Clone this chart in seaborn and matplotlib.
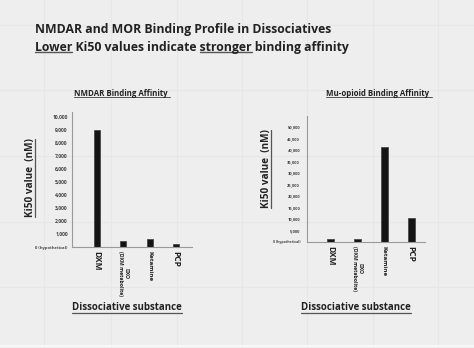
import numpy as np
import pandas as pd
import matplotlib
matplotlib.use("Agg")
import matplotlib.pyplot as plt
import seaborn as sns
from matplotlib.lines import Line2D

# ---------------- data ----------------
categories = ["DXM", "DXO\n(DXM metabolite)", "Ketamine", "PCP"]
nmdar_ki = [9000, 490, 620, 210]
mor_ki = [1300, 1300, 41000, 10500]

nmdar_ticks = [0, 1000, 2000, 3000, 4000, 5000, 6000, 7000, 8000, 9000, 10000]
nmdar_tick_labels = ["0 (hypothetical)", "1,000", "2,000", "3,000", "4,000", "5,000",
                     "6,000", "7,000", "8,000", "9,000", "10,000"]
mor_ticks = [0, 5000, 10000, 15000, 20000, 25000, 30000, 35000, 40000, 45000, 50000]
mor_tick_labels = ["0 (hypothetical)", "5,000", "10,000", "15,000", "20,000", "25,000",
                   "30,000", "35,000", "40,000", "45,000", "50,000"]
cat_fontsizes = [6, 3.7, 4.5, 6]

title_main = "NMDAR and MOR Binding Profile in Dissociatives"
sub_parts = ["Lower", " Ki50 values indicate ", "stronger", " binding affinity"]
left_title = "NMDAR Binding Affinity "
right_title = "Mu-opioid Binding Affinity "
ylabel = "Ki50 value  (nM)"
xlabel = "Dissociative substance"

# ---------------- style ----------------
sns.set_theme(style="white")
plt.rcParams["font.family"] = ["Open Sans", "DejaVu Sans"]
plt.rcParams["font.weight"] = "bold"
BG = "#eeeeee"
TXT = "#222222"

W, H = 474, 348
fig = plt.figure(figsize=(W / 100, H / 100), dpi=100, facecolor=BG)

# faint background grid (whiteboard look)
bg = fig.add_axes([0, 0, 1, 1], zorder=-10)
bg.set_xlim(0, W)
bg.set_ylim(H, 0)
bg.set_facecolor(BG)
bg.set_xticks([44, 111, 177, 242, 307, 373, 438])
bg.set_yticks([25, 90, 156, 222, 287])
bg.grid(True, color="#e7e7e7", linewidth=0.9)
bg.axhline(346, color="#f8f8f8", linewidth=1.5)
bg.tick_params(length=0, labelleft=False, labelbottom=False)
for s in bg.spines.values():
    s.set_visible(False)


def px_axes(x0, y0, x1, y1):
    return fig.add_axes([x0 / W, 1 - y1 / H, (x1 - x0) / W, (y1 - y0) / H])


axL = px_axes(72, 112, 192, 247)
axR = px_axes(307, 116, 425, 242)

specs = [
    (axL, nmdar_ki, nmdar_ticks, nmdar_tick_labels, (-0.95, 3.61), 10400, 0.23, 3.6, 3.0, 3),
    (axR, mor_ki, mor_ticks, mor_tick_labels, (-0.885, 3.52), 54600, 0.26, 3.0, 2.5, 5),
]

for ax, vals, ticks, tlabels, xlim, ytop, bw, tfs, zfs, pad in specs:
    df = pd.DataFrame({"substance": categories, "ki": vals})
    sns.barplot(data=df, x="substance", y="ki", ax=ax, color="#141414",
                width=bw, edgecolor="#4a4a4a", linewidth=0.6, saturation=1)
    ax.set_facecolor("none")
    ax.set_xlim(*xlim)
    ax.set_ylim(0, ytop)
    ax.set_yticks(ticks)
    ax.set_yticklabels(tlabels, fontsize=tfs, color="#444444", fontweight="bold")
    ax.get_yticklabels()[0].set_fontsize(zfs)
    ax.set_xticks(range(len(categories)))
    ax.set_xticklabels(categories, rotation=-90, va="top", ha="center",
                       multialignment="center", color=TXT, fontweight="bold")
    for lab, fs in zip(ax.get_xticklabels(), cat_fontsizes):
        lab.set_fontsize(fs)
    ax.tick_params(axis="both", length=0)
    ax.tick_params(axis="y", pad=pad)
    ax.tick_params(axis="x", pad=3)
    for side in ["top", "right"]:
        ax.spines[side].set_visible(False)
    for side in ["left", "bottom"]:
        ax.spines[side].set_color("#9a9a9a")
        ax.spines[side].set_linewidth(0.8)
    ax.set_xlabel("")
    ax.set_ylabel("")

# texts placed in figure pixel coordinates
def ftext(x, y, s, **kw):
    return fig.text(x / W, 1 - y / H, s, color=TXT, fontweight="bold", **kw)

main_fs = 8.8
t_main = ftext(35, 33.5, title_main, fontsize=main_fs, va="baseline", ha="left")
t_left = ftext(122, 96, left_title, fontsize=5.7, va="baseline", ha="center")
t_right = ftext(379, 96, right_title, fontsize=5.7, va="baseline", ha="center")
yl_left = ftext(30, 178, ylabel, fontsize=7.2, rotation=90, va="center", ha="center")
yl_right = ftext(266, 169, ylabel, fontsize=7.2, rotation=90, va="center", ha="center")
xl_left = ftext(127, 310.5, xlabel, fontsize=7, va="baseline", ha="center")
xl_right = ftext(356, 310.5, xlabel, fontsize=7, va="baseline", ha="center")

fig.canvas.draw()
renderer = fig.canvas.get_renderer()


def hline(x0, x1, y, lw=0.9, color="#555555"):
    fig.add_artist(Line2D([x0 / W, x1 / W], [y / fig.bbox.height, y / fig.bbox.height],
                          transform=fig.transFigure, color=color, linewidth=lw))


def vline(x, y0, y1, lw=0.9, color="#555555"):
    fig.add_artist(Line2D([x / fig.bbox.width, x / fig.bbox.width],
                          [y0 / fig.bbox.height, y1 / fig.bbox.height],
                          transform=fig.transFigure, color=color, linewidth=lw))


def text_width(s, fontsize):
    t = fig.text(0, 0, s, fontsize=fontsize, fontweight="bold")
    w = t.get_window_extent(renderer).width
    t.remove()
    return w


# subtitle with underlined words
sub_full = "".join(sub_parts)
t_sub = ftext(35, 50.5, sub_full, fontsize=main_fs, va="baseline", ha="left")
fig.canvas.draw()
bb = t_sub.get_window_extent(renderer)
base_y = bb.y0 + 1.5
w_lower = text_width(sub_parts[0], main_fs)
hline(bb.x0, bb.x0 + w_lower, base_y, lw=1.0)
pre = "".join(sub_parts[:3])
w_pre = text_width(pre, main_fs)
w_str = text_width(sub_parts[2], main_fs)
hline(bb.x0 + w_pre - w_str, bb.x0 + w_pre, base_y, lw=1.0)

# underline titles and axis labels
for t in [t_left, t_right]:
    b = t.get_window_extent(renderer)
    hline(b.x0, b.x1, b.y0 + 0.6, lw=0.7)
for t in [xl_left, xl_right]:
    b = t.get_window_extent(renderer)
    hline(b.x0, b.x1, b.y0 + 0.6, lw=0.9)
for t in [yl_left, yl_right]:
    b = t.get_window_extent(renderer)
    vline(b.x1 - 0.6, b.y0, b.y1, lw=0.9)

fig.savefig("out.png", dpi=100, facecolor=BG)
